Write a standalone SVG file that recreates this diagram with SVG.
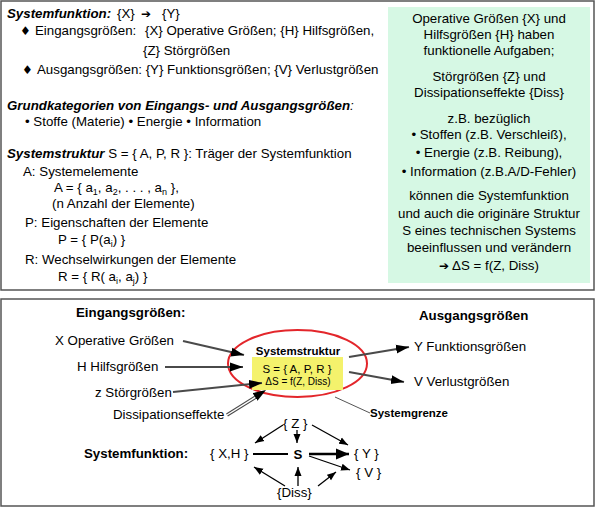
<svg xmlns="http://www.w3.org/2000/svg" width="595" height="508" viewBox="0 0 595 508">
<style>
text{font-family:"Liberation Sans",Arial,"DejaVu Sans",sans-serif;font-size:13.3px;fill:#000}
.b{font-weight:bold}
.bi{font-weight:bold;font-style:italic}
.c{text-anchor:middle}
.sub{font-size:9px}
.dia{font-family:"DejaVu Sans",sans-serif;font-size:12px}
.arw{font-family:"DejaVu Sans",sans-serif;font-size:12px}
.frame{fill:#fff;stroke:#555;stroke-width:1.5}
.inarr{stroke:#4a4a4a;stroke-width:2;fill:none;marker-end:url(#ah)}
.thin{stroke:#000;stroke-width:1.3;fill:none;marker-end:url(#sm)}
</style>
<defs>
<marker id="ah" markerUnits="userSpaceOnUse" markerWidth="14" markerHeight="10" refX="13" refY="5" orient="auto"><path d="M0,0.5 L13,5 L0,9.5 Z" fill="#000"/></marker>
<marker id="sm" markerUnits="userSpaceOnUse" markerWidth="10" markerHeight="8" refX="9" refY="4" orient="auto"><path d="M0,0.5 L9,4 L0,7.5 Z" fill="#000"/></marker>
<marker id="big" markerUnits="userSpaceOnUse" markerWidth="14" markerHeight="12" refX="13" refY="6" orient="auto"><path d="M0,0.5 L13,6 L0,11.5 Z" fill="#000"/></marker>
</defs>
<rect width="595" height="508" fill="#fff"/>

<g id="panel-top">
<rect class="frame" x="1" y="1" width="593" height="289"/>
<text x="7" y="18"><tspan class="bi">Systemfunktion:</tspan><tspan x="117">{X}</tspan><tspan class="arw" x="141">➔</tspan><tspan x="162">{Y}</tspan></text>
<text class="dia" x="20" y="35">♦</text>
<text x="35" y="35">Eingangsgrößen:</text>
<text x="145" y="35">{X} Operative Größen; {H} Hilfsgrößen,</text>
<text x="143" y="55">{Z} Störgrößen</text>
<text class="dia" x="22" y="74">♦</text>
<text x="37" y="74">Ausgangsgrößen: {Y} Funktionsgrößen; {V} Verlustgrößen</text>
<text x="7" y="110"><tspan class="bi">Grundkategorien von Eingangs- und Ausgangsgrößen</tspan><tspan font-style="italic">:</tspan></text>
<text x="25" y="126">• Stoffe (Materie) • Energie • Information</text>
<text x="7" y="158"><tspan class="bi">Systemstruktur</tspan> S = { A, P, R }: Träger der Systemfunktion</text>
<text x="23" y="176">A: Systemelemente</text>
<text x="54" y="192">A = { a<tspan class="sub" dy="2.5">1</tspan><tspan dy="-2.5">, a</tspan><tspan class="sub" dy="2.5">2</tspan><tspan dy="-2.5">, . . . , a</tspan><tspan class="sub" dy="2.5">n</tspan><tspan dy="-2.5"> },</tspan></text>
<text x="52" y="208">(n Anzahl der Elemente)</text>
<text x="25" y="227">P: Eigenschaften der Elemente</text>
<text x="58" y="244">P = { P(a<tspan class="sub" dy="2.5">i</tspan><tspan dy="-2.5">) }</tspan></text>
<text x="25" y="264">R: Wechselwirkungen der Elemente</text>
<text x="58" y="281">R = { R( a<tspan class="sub" dy="2.5">i</tspan><tspan dy="-2.5">, a</tspan><tspan class="sub" dy="2.5">j</tspan><tspan dy="-2.5">) }</tspan></text>
</g>

<g id="info-box">
<rect x="388" y="7" width="202" height="276" fill="#d6f8e4"/>
<text class="c" x="489" y="23">Operative Größen {X} und</text>
<text class="c" x="489" y="39">Hilfsgrößen {H} haben</text>
<text class="c" x="489" y="55">funktionelle Aufgaben;</text>
<text class="c" x="489" y="81">Störgrößen {Z} und</text>
<text class="c" x="489" y="97">Dissipationseffekte {Diss}</text>
<text class="c" x="489" y="123">z.B. bezüglich</text>
<text class="c" x="489" y="139">• Stoffen (z.B. Verschleiß),</text>
<text class="c" x="489" y="157">• Energie (z.B. Reibung),</text>
<text class="c" x="489" y="176">• Information (z.B.A/D-Fehler)</text>
<text class="c" x="489" y="200">können die Systemfunktion</text>
<text class="c" x="489" y="218">und auch die originäre Struktur</text>
<text class="c" x="489" y="235">S eines technischen Systems</text>
<text class="c" x="489" y="252">beeinflussen und verändern</text>
<text class="c" x="489" y="270"><tspan class="arw">➔</tspan> ΔS = f(Z, Diss)</text>
</g>

<g id="panel-bottom">
<rect class="frame" x="1" y="299" width="593" height="207"/>
<text class="b" x="76" y="317">Eingangsgrößen:</text>
<text class="b" x="419" y="320">Ausgangsgrößen</text>
</g>

<g id="node-system">
<ellipse cx="297.5" cy="363.5" rx="69.5" ry="33.5" fill="none" stroke="#e3262b" stroke-width="2"/>
<text class="b c" x="298" y="355" style="font-size:11.5px">Systemstruktur</text>
<rect x="252" y="357" width="91" height="33" fill="#f4f26c"/>
<text class="c" x="297" y="373" style="font-size:11.5px">S = { A, P, R }</text>
<text class="c" x="298" y="385" style="font-size:10px">ΔS = f(Z, Diss)</text>
</g>

<g id="connectors">
<line class="inarr" x1="183" y1="341" x2="244" y2="355"/>
<line class="inarr" x1="165" y1="367" x2="243" y2="367"/>
<line class="inarr" x1="173" y1="392" x2="262" y2="383"/>
<line x1="227" y1="415" x2="259" y2="395" stroke="#4a4a4a" stroke-width="3.5"/>
<line x1="227" y1="415" x2="259" y2="395" stroke="#fff" stroke-width="1.3"/>
<line x1="255" y1="397" x2="266" y2="390" stroke="none" marker-end="url(#ah)"/>
<line class="inarr" x1="349" y1="357" x2="409" y2="347"/>
<line class="inarr" x1="349" y1="372" x2="404" y2="382"/>
<line x1="335" y1="397" x2="370" y2="413" stroke="#555" stroke-width="1"/>
<line class="thin" x1="283" y1="425" x2="255" y2="443"/>
<line class="thin" x1="297" y1="430" x2="297" y2="443"/>
<line class="thin" x1="312" y1="425" x2="348" y2="445"/>
<line x1="253" y1="454" x2="288" y2="454" stroke="#000" stroke-width="2"/>
<line x1="309" y1="454" x2="349" y2="454" stroke="#000" stroke-width="2.5" marker-end="url(#big)"/>
<line class="thin" x1="309" y1="456" x2="350" y2="470"/>
<line class="thin" x1="285" y1="486" x2="254" y2="467"/>
<line class="thin" x1="298" y1="486" x2="298" y2="467"/>
<line class="thin" x1="318" y1="486" x2="336" y2="472"/>
</g>

<g id="node-x"><text x="55" y="345">X Operative Größen</text></g>
<g id="node-h"><text x="77" y="371">H Hilfsgrößen</text></g>
<g id="node-z"><text x="95" y="397">z Störgrößen</text></g>
<g id="node-diss"><text x="113" y="419">Dissipationseffekte</text></g>

<g id="node-y"><text x="414" y="351">Y Funktionsgrößen</text></g>
<g id="node-v"><text x="414" y="386">V Verlustgrößen</text></g>
<g id="node-grenze"><text class="b" x="370" y="417" style="font-size:11.5px">Systemgrenze</text></g>

<g id="node-sf"><text class="b" x="84" y="458">Systemfunktion:</text></g>
<g id="node-xh"><text x="210" y="458">{ X,H }</text></g>
<g id="node-zz"><text x="283" y="428">{ Z }</text></g>
<g id="node-s"><text class="b c" x="298" y="459">S</text></g>
<g id="node-yy"><text x="354" y="458">{ Y }</text></g>
<g id="node-vv"><text x="356" y="477">{ V }</text></g>
<g id="node-dd"><text x="277" y="497">{Diss}</text></g>
</svg>
